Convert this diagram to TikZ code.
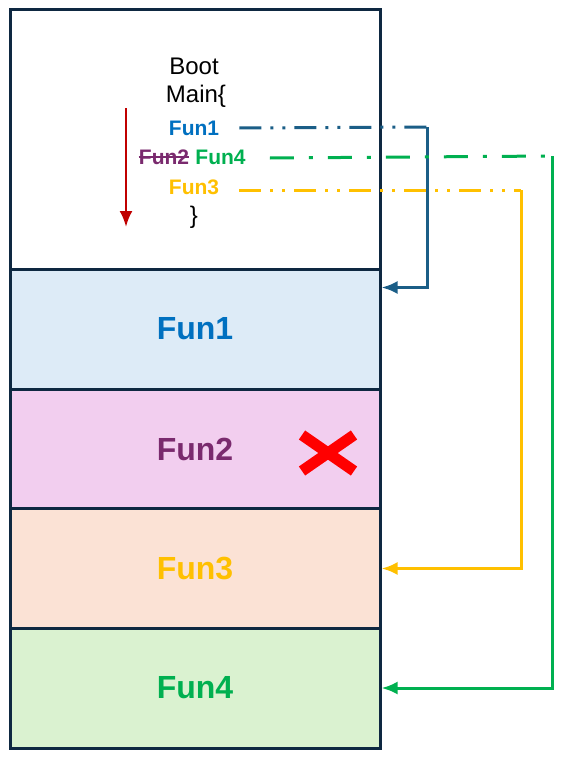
\documentclass[tikz,border=0pt]{standalone}
\usepackage{fontspec}
\setmainfont{Liberation Sans}
\usetikzlibrary{positioning,arrows.meta}
\definecolor{frame}{HTML}{0E2841}
\definecolor{fblue}{HTML}{0070C0}
\definecolor{lblue}{HTML}{1B5E87}
\definecolor{fpurple}{HTML}{7A2A6E}
\definecolor{fyellow}{HTML}{FFC000}
\definecolor{fgreen}{HTML}{00B050}
\definecolor{arrowred}{HTML}{C00000}
\definecolor{bgblue}{HTML}{DDEBF7}
\definecolor{bgpurple}{HTML}{F2CEEF}
\definecolor{bgorange}{HTML}{FBE2D5}
\definecolor{bggreen}{HTML}{DAF2D0}
\tikzset{
	section/.style={draw=frame, line width=3pt, minimum width=370pt, minimum height=120pt, inner sep=0pt, font=\fontsize{32}{32}\selectfont\bfseries},
	code/.style={inner sep=0pt, font=\fontsize{24}{24}\selectfont},
	fun/.style={code, font=\fontsize{21}{21}\selectfont\bfseries},
	link/.style={line width=3pt},
	dashdotdot/.style={dash pattern=on 22pt off 9pt on 3pt off 9pt on 3pt off 9pt},
	dashdot/.style={dash pattern=on 24pt off 15pt on 4pt off 15pt},
}
\begin{document}
\begin{tikzpicture}[>={Latex[length=16pt,width=13pt]}, x=1pt, y=-1pt]
	\useasboundingbox (0,0) rectangle (565,760);

	% sections
	\node[section, fill=white, minimum height=259pt] (boot) at (195,139.5) {};
	\node[section, fill=bgblue, text=fblue] (sec1) at (195,329) {Fun1};
	\node[section, fill=bgpurple, text=fpurple] (sec2) at (195,449) {Fun2};
	\node[section, fill=bgorange, text=fyellow] (sec3) at (195,568.5) {Fun3};
	\node[section, fill=bggreen, text=fgreen] (sec4) at (195,688) {Fun4};

	% boot code
	\node[code] (bootline) at (194,66) {Boot};
	\node[code] (mainline) at (196,96) {Main\{};
	\node[fun, text=fblue] (f1) at (194,128) {Fun1};
	\node[fun, text=fpurple] (f2) at (164,157) {Fun2};
	\node[fun, text=fgreen, right=6pt of f2] (f4) {Fun4};
	\node[fun, text=fyellow] (f3) at (194,187) {Fun3};
	\node[code] (close) at (194,217) {\}};
	\draw[fpurple, line width=1.5pt] (f2.west) -- (f2.east);

	% order of calls
	\coordinate (runtop) at (126,108);
	\coordinate (runbot) at (126,227);
	\draw[->, arrowred, line width=2.5pt] (runtop) -- (runbot);

	% Fun2 removed
	\begin{scope}[shift={(328,453)}]
		\draw[red, line width=11pt] (-26,-18) -- (26,18);
		\draw[red, line width=11pt] (-26,18) -- (26,-18);
	\end{scope}

	% calls
	\coordinate (c1) at (427,127);
	\coordinate (c4) at (552,156);
	\coordinate (c3) at (521,190);
	\draw[link, lblue, dashdotdot] ([xshift=20pt]f1.east) -- (c1);
	\draw[link, lblue, ->] (c1) |- ([yshift=-20pt]sec1.north east);
	\draw[link, fgreen, dashdot] ([xshift=24pt,yshift=-1pt]f4.east) -- (c4);
	\draw[link, fgreen, ->] (c4) |- (sec4.east);
	\draw[link, fyellow, dashdotdot] ([xshift=20pt,yshift=-3pt]f3.east) -- (c3);
	\draw[link, fyellow, ->] (c3) |- (sec3.east);
\end{tikzpicture}
\end{document}
